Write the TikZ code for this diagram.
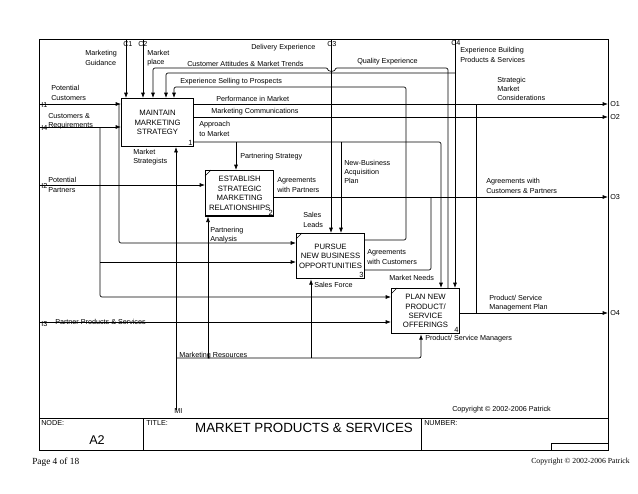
\documentclass[tikz,border=0pt]{standalone}
\usepackage{fontspec}
\setmainfont{Liberation Sans}
\newfontfamily\seriff{Liberation Serif}
\usetikzlibrary{arrows.meta,calc}
\begin{document}
\begin{tikzpicture}[x=0.75pt,y=-0.75pt,
  box/.style={draw,line width=0.8pt,anchor=north west,inner sep=0pt,minimum width=51pt,minimum height=34pt,align=center,font=\fontsize{5.8}{7}\selectfont},
  a/.style={-{Latex[length=4pt,width=3pt]},rounded corners=1.5pt,line width=0.5pt},
  l/.style={rounded corners=1.5pt,line width=0.5pt},
  t/.style={font=\fontsize{5.4}{7}\selectfont,align=left,inner sep=0pt,anchor=west},
  num/.style={font=\fontsize{5.6}{6}\selectfont,inner sep=1pt,anchor=south east}]
\useasboundingbox (0,0) rectangle (638,493);
\draw[line width=0.6pt] (39,39) rectangle (608,450);
\draw[line width=0.6pt] (39,418) -- (608,418) (143,418) -- (143,450) (421,418) -- (421,450) (551,450) -- (551,443) -- (608,443);
% boxes
\node[box,minimum width=54pt,minimum height=36pt] (b1) at (121,98) {MAINTAIN\\MARKETING\\STRATEGY};
\node[num] at (b1.south east) {1};
\node[box,line width=1pt] (b2) at (205,170) {ESTABLISH\\STRATEGIC\\MARKETING\\RELATIONSHIPS};
\node[num] at (b2.south east) {2};
\node[box] (b3) at (296,233) {PURSUE\\NEW BUSINESS\\OPPORTUNITIES};
\node[num] at (b3.south east) {3};
\node[box] (b4) at (391,288) {PLAN NEW\\PRODUCT/\\SERVICE\\OFFERINGS};
\node[num] at (b4.south east) {4};
\foreach \b in {b2,b3,b4} \draw[line width=0.4pt] ($(\b.north west)+(0,6)$) -- ($(\b.north west)+(6,0)$);
% controls
\draw[a] (126,39) -- (b1.north -| 126,0);
\draw[a] (143,39) -- (b1.north -| 143,0);
\draw[a] (448,288) -- (448,68) -- (335,68) arc[start angle=0,end angle=180,radius=3.5] -- (153,68) -- (b1.north -| 153,0);
\draw[a] (455,39) -- (b4.north -| 455,0);
\draw[a] (455,73) -- (166,73) -- (b1.north -| 166,0);
\draw[a] (b3.east |- 0,240) -- (406,240) -- (406,87) -- (174,87) -- (b1.north -| 174,0);
\draw[a] (331,39) -- (b3.north -| 331,0);
\draw[a] (b1.east |- 0,142) -- (441,142) -- (b4.north -| 441,0);
\draw[a] (236,142) -- (b2.north -| 236,0);
\draw[a] (341,142) -- (b3.north -| 341,0);
% outputs
\draw[a] (b1.east |- 0,104) -- (608,104);
\draw[a] (b1.east |- 0,117) -- (608,117);
\draw[a] (b2.east |- 0,197) -- (608,197);
\draw[l] (b3.east |- 0,270) -- (431,270) -- (431,197);
\draw[a] (b4.east |- 0,313) -- (608,313);
\draw[l] (476,313) -- (476,104);
% inputs
\draw[a] (39,104) -- (b1.west |- 0,104);
\draw[a] (39,127) -- (b1.west |- 0,127);
\draw[a] (119,104) -- (119,243) -- (b3.west |- 0,243);
\draw[a] (100,127) -- (100,297) -- (b4.west |- 0,297);
\draw[a] (100,262) -- (b3.west |- 0,262);
\draw[a] (39,185) -- (b2.west |- 0,185);
\draw[a] (39,322) -- (b4.west |- 0,322);
% mechanisms
\draw[a] (176,410) -- (b1.south -| 176,0);
\draw[a] (176,358) -- (421,358) -- (b4.south -| 421,0);
\draw[a] (208,358) -- (b2.south -| 208,0);
\draw[a] (311,358) -- (b3.south -| 311,0);
% labels
\node[t] at (123,44) {C1};
\node[t] at (138,44) {C2};
\node[t] at (327,44) {C3};
\node[t] at (451,43) {C4};
\node[t] at (85,58) {Marketing\\Guidance};
\node[t] at (147,58) {Market\\place};
\node[t] at (251,48) {Delivery Experience};
\node[t] at (187,64) {Customer Attitudes \& Market Trends};
\node[t] at (357,62) {Quality Experience};
\node[t] at (460,55) {Experience Building\\Products \& Services};
\node[t] at (180,82) {Experience Selling to Prospects};
\node[t] at (497,89) {Strategic\\Market\\Considerations};
\node[t] at (216,99) {Performance in Market};
\node[t] at (211,112) {Marketing Communications};
\node[t] at (199,129) {Approach\\to Market};
\node[t] at (133,157) {Market\\Strategists};
\node[t] at (240,157) {Partnering Strategy};
\node[t] at (344,172) {New-Business\\Acquisition\\Plan};
\node[t] at (277,185) {Agreements\\with Partners};
\node[t] at (486,186) {Agreements with\\Customers \& Partners};
\node[t] at (303,220) {Sales\\Leads};
\node[t] at (210,235) {Partnering\\Analysis};
\node[t] at (367,257) {Agreements\\with Customers};
\node[t] at (314,285) {Sales Force};
\node[t] at (389,278) {Market Needs};
\node[t] at (489,303) {Product/ Service\\Management Plan};
\node[t] at (425,339) {Product/ Service Managers};
\node[t] at (179,356) {Marketing Resources};
\node[t] at (55,322) {Partner Products \& Services};
\node[t] at (51,93) {Potential\\Customers};
\node[t] at (48,121) {Customers \&\\Requirements};
\node[t] at (48,185) {Potential\\Partners};
\node[t] at (41,105) {I1};
\node[t] at (41,128) {I4};
\node[t] at (41,186) {I2};
\node[t] at (41,324) {I3};
\node[t] at (610,104) {O1};
\node[t] at (610,117) {O2};
\node[t] at (610,197) {O3};
\node[t] at (610,313) {O4};
\node[t] at (174,411) {MI};
\node[t] at (452,410) {Copyright © 2002-2006 Patrick};
\node[t] at (41,423) {NODE:};
\node[t] at (146,423) {TITLE:};
\node[t] at (424,423) {NUMBER:};
\node[font=\fontsize{10}{12}\selectfont] at (304,428) {MARKET PRODUCTS \& SERVICES};
\node[font=\fontsize{9.5}{11}\selectfont] at (97,440) {A2};
\node[font=\seriff\fontsize{7}{8}\selectfont,anchor=west,inner sep=0pt] at (32,462) {Page 4 of 18};
\node[font=\seriff\fontsize{5.8}{7}\selectfont,anchor=east,inner sep=0pt] at (630,462) {Copyright © 2002-2006 Patrick};
\end{tikzpicture}
\end{document}
